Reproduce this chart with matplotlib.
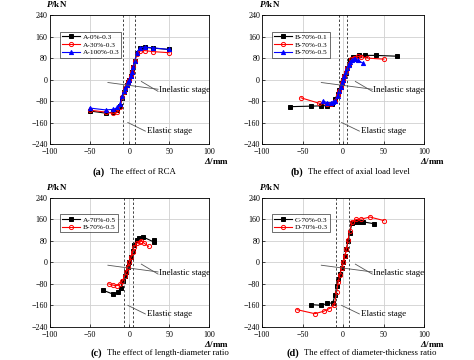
import matplotlib
matplotlib.use("Agg")
import matplotlib.pyplot as plt

plt.rcParams['font.family'] = ['Liberation Serif', 'DejaVu Serif']
plt.rcParams['mathtext.fontset'] = 'custom'
plt.rcParams['mathtext.rm'] = 'Liberation Serif'
plt.rcParams['mathtext.it'] = 'Liberation Serif:italic'
plt.rcParams['mathtext.bf'] = 'Liberation Serif:bold'
plt.rcParams['mathtext.bfit'] = 'Liberation Serif:bold:italic'

# (a) the effect of RCA
a0_x = [-50, -30, -20, -15, -12, -9, -7, -5, -3, -1.5, 0, 1.5, 3, 5, 7, 9, 13, 19, 30, 50]
a0_y = [-117, -125, -121, -114, -99, -68, -48, -34, -20, -10, 0, 14, 28, 48, 70, 98, 116, 120, 117, 112]
a30_x = [-50, -30, -20, -15, -12, -9, -7, -5, -3, -1.5, 0, 1.5, 3, 5, 7, 9, 13, 19, 30, 50]
a30_y = [-114, -121, -126, -122, -102, -66, -47, -33, -20, -10, 0, 13, 27, 46, 68, 96, 106, 108, 104, 100]
a100_x = [-50, -30, -20, -15, -12, -9, -7, -5, -3, -1.5, 0, 1.5, 3, 5, 7, 9, 13, 19, 30, 50]
a100_y = [-106, -113, -111, -104, -91, -62, -44, -31, -19, -9, 0, 14, 28, 47, 69, 100, 118, 121, 118, 112]

# (b) the effect of axial load level
b1_x = [-66, -40, -27, -20, -14, -10, -7, -5, -3, -1.5, 0, 1.5, 3, 5, 7, 9, 12, 20, 27, 40, 66]
b1_y = [-101, -99, -98, -97, -91, -72, -55, -40, -26, -13, 0, 13, 26, 42, 58, 72, 85, 90, 90, 90, 87]
b3_x = [-52, -30, -20, -15, -10, -7, -5, -3, -1.5, 0, 1.5, 3, 5, 7, 10, 13, 18, 22, 30, 50]
b3_y = [-68, -88, -92, -90, -78, -57, -42, -27, -13, 0, 13, 27, 42, 57, 75, 82, 86, 85, 80, 76]
b5_x = [-25, -20, -15, -12, -10, -7, -5, -3, -1.5, 0, 1.5, 3, 5, 7, 9, 11, 13, 15, 18, 25]
b5_y = [-80, -86, -86, -85, -80, -60, -44, -28, -14, 0, 14, 28, 42, 55, 65, 72, 75, 77, 72, 60]

# (c) the effect of length-diameter ratio
cA_x = [-33, -20, -14, -11, -8, -6, -4, -2, 0, 2, 4, 6, 9, 12, 17, 31, 31]
cA_y = [-104, -119, -111, -94, -70, -52, -35, -17, 0, 18, 40, 65, 84, 91, 94, 75, 82]
cB_x = [-26, -21, -16, -12, -9, -6, -4, -2, 0, 2, 4, 6, 9, 13, 15, 18, 24]
cB_y = [-80, -85, -87, -82, -70, -52, -35, -17, 0, 18, 38, 58, 70, 75, 79, 72, 59]

# (d) the effect of diameter-thickness ratio
dC_x = [-40, -27, -20, -13, -10, -8, -6, -4, -2, 0, 2, 4, 6, 8, 11, 15, 20, 25, 38]
dC_y = [-157, -160, -153, -151, -122, -88, -64, -42, -20, 0, 22, 48, 78, 110, 146, 150, 150, 150, 143]
dD_x = [-57, -35, -24, -17, -11, -8, -6, -4, -2, 0, 2, 4, 6, 8, 11, 16, 22, 33, 50]
dD_y = [-176, -191, -182, -172, -160, -110, -72, -46, -22, 0, 24, 50, 82, 116, 150, 159, 160, 168, 155]

panels = [
    dict(rect=[0.105, 0.60, 0.336, 0.358], tag='(a)', cap='The effect of RCA',
         capx=0.222, capy=0.522, dash=(-8, 7),
         series=[(a0_x, a0_y, 'A-0%-0.3', 'k', 's'),
                 (a30_x, a30_y, 'A-30%-0.3', 'red', 'o'),
                 (a100_x, a100_y, 'A-100%-0.3', 'blue', '^')]),
    dict(rect=[0.553, 0.60, 0.342, 0.358], tag='(b)', cap='The effect of axial load level',
         capx=0.640, capy=0.522, dash=(-5.5, 5),
         series=[(b1_x, b1_y, 'B-70%-0.1', 'k', 's'),
                 (b3_x, b3_y, 'B-70%-0.3', 'red', 'o'),
                 (b5_x, b5_y, 'B-70%-0.5', 'blue', '^')]),
    dict(rect=[0.105, 0.092, 0.336, 0.359], tag='(c)', cap='The effect of length-diameter ratio',
         capx=0.215, capy=0.019, dash=(-6.5, 5),
         series=[(cA_x, cA_y, 'A-70%-0.5', 'k', 's'),
                 (cB_x, cB_y, 'B-70%-0.5', 'red', 'o')]),
    dict(rect=[0.553, 0.092, 0.342, 0.359], tag='(d)', cap='The effect of diameter-thickness ratio',
         capx=0.632, capy=0.019, dash=(-9, 7),
         series=[(dC_x, dC_y, 'C-70%-0.3', 'k', 's'),
                 (dD_x, dD_y, 'D-70%-0.3', 'red', 'o')]),
]

fig = plt.figure(figsize=(4.74, 3.6), dpi=100)

for p in panels:
    ax = fig.add_axes(p['rect'])
    for xs, ys, lab, col, mk in p['series']:
        mfc = 'none' if mk == 'o' else col
        ax.plot(xs, ys, color=col, marker=mk, ms=3.0, mfc=mfc, mew=0.7, lw=0.8, label=lab)
    for xv in p['dash']:
        ax.axvline(xv, color='#444444', ls=(0, (2.5, 2)), lw=0.7)
    ax.set_xlim(-100, 100)
    ax.set_ylim(-240, 240)
    ax.set_xticks([-100, -50, 0, 50, 100])
    ax.set_yticks([-240, -160, -80, 0, 80, 160, 240])
    ax.grid(True, color='#d0d0d0', lw=0.6)
    ax.set_axisbelow(True)
    ax.tick_params(labelsize=5.8, length=2, width=0.5, direction='in', pad=1.5)
    ax.tick_params(axis='x', pad=2.8)
    for s in ax.spines.values():
        s.set_linewidth(0.6)
    leg = ax.legend(loc='upper left', bbox_to_anchor=(0.04, 0.90), fontsize=5.3,
                    frameon=True, fancybox=False, edgecolor='k', handlelength=2.4,
                    borderpad=0.3, labelspacing=0.2, handletextpad=0.4)
    leg.get_frame().set_linewidth(0.5)

    # stage annotations
    ax.plot([-27, 36], [-11, -36], color='#555555', lw=0.6)
    ax.plot([15, 36], [-7, -44], color='#555555', lw=0.6)
    ax.text(37, -40, 'Inelastic stage', fontsize=6.5, va='center', ha='left')
    ax.plot([-2, 20], [-160, -192], color='#555555', lw=0.6)
    ax.text(22, -192, 'Elastic stage', fontsize=6.5, va='center', ha='left')

    ax.text(0.045, 1.085, r'$\mathbfit{P}\mathbf{/kN}$', transform=ax.transAxes,
            fontsize=6.5, ha='center', va='center')
    ax.text(1.05, -0.135, r'$\mathbfit{\Delta}\mathbf{/mm}$', transform=ax.transAxes,
            fontsize=6.5, ha='center', va='center')

    fig.text(p['capx'], p['capy'], p['tag'], fontsize=7.5, fontweight='bold',
             ha='right', va='center')
    fig.text(p['capx'] + 0.01, p['capy'], p['cap'], fontsize=6.3, ha='left', va='center')

fig.savefig('out.png', dpi=100)
